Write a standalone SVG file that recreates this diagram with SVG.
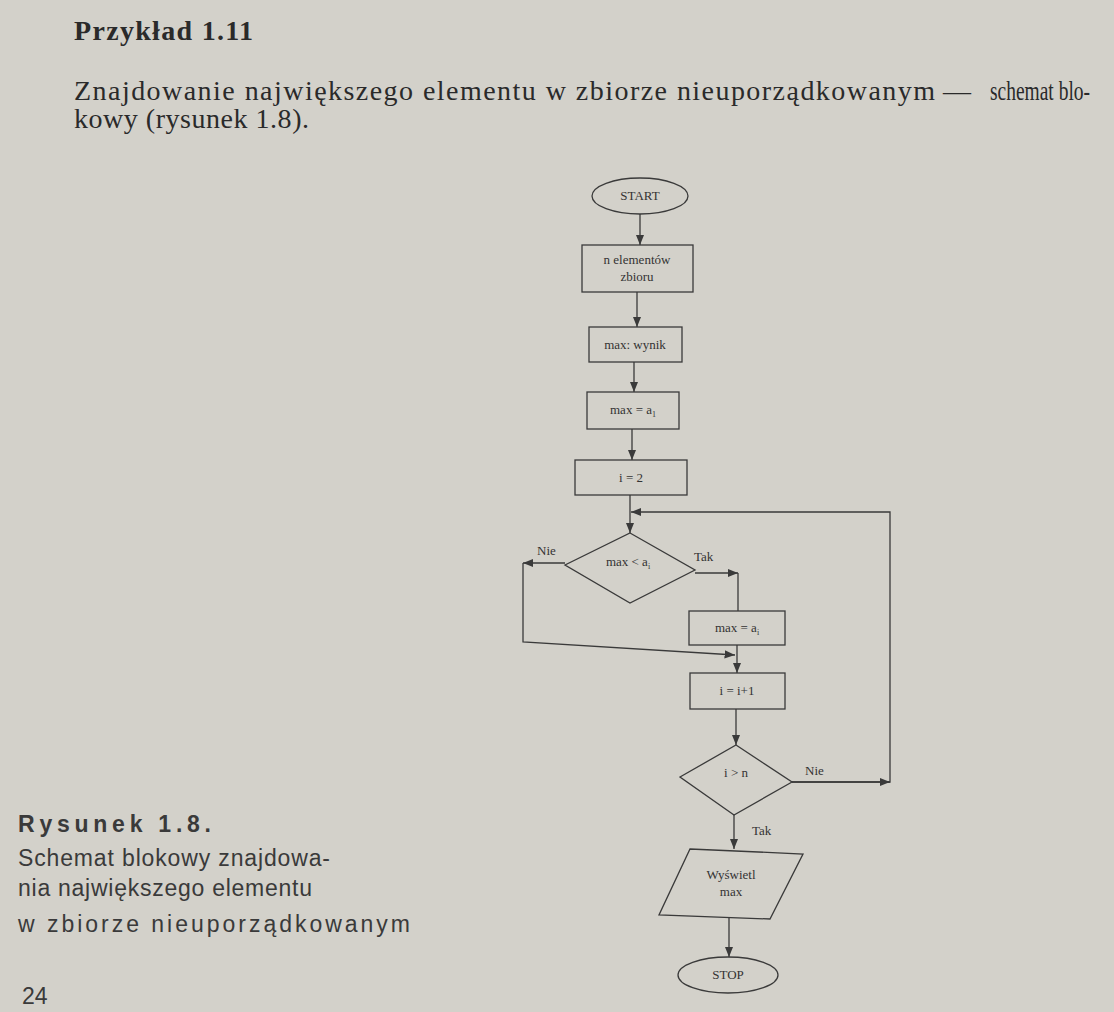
<svg xmlns="http://www.w3.org/2000/svg" width="1114" height="1012" viewBox="0 0 1114 1012">
<style>
.s{fill:none;stroke:#3a3a3a;stroke-width:1.3}
.c{stroke:#3a3a3a;stroke-width:1.3;fill:none}
.t{font-family:"Liberation Serif",serif;font-size:13px;fill:#333;text-anchor:middle}
.l{font-family:"Liberation Serif",serif;font-size:13px;fill:#333}
.h{font-family:"Liberation Serif",serif;font-size:28px;fill:#2a2a2a}
.cap{font-family:"Liberation Sans",sans-serif;font-size:23px;fill:#3a3a3a}
</style>
<defs><marker id="a" viewBox="0 0 10 10" refX="10" refY="5" markerWidth="8" markerHeight="8" orient="auto"><path d="M0,1 L10,5 L0,9z" fill="#3a3a3a"/></marker></defs>
<rect width="1114" height="1012" fill="#d3d1ca"/>
<text class="h" x="74" y="40" font-weight="bold" font-size="25" textLength="179" lengthAdjust="spacing">Przykład 1.11</text>
<text class="h" x="74" y="100" textLength="861" lengthAdjust="spacing">Znajdowanie największego elementu w zbiorze nieuporządkowanym</text>
<text class="h" x="943" y="100">—</text>
<text class="h" x="990" y="100" font-size="19" textLength="100" lengthAdjust="spacingAndGlyphs">schemat blo-</text>
<text class="h" x="74" y="128" textLength="235" lengthAdjust="spacing">kowy (rysunek 1.8).</text>
<text class="cap" x="18" y="832" font-weight="bold" font-size="22" textLength="193" lengthAdjust="spacing">Rysunek 1.8.</text>
<text class="cap" x="18" y="866" textLength="312" lengthAdjust="spacing">Schemat blokowy znajdowa-</text>
<text class="cap" x="18" y="896" textLength="294" lengthAdjust="spacing">nia największego elementu</text>
<text class="cap" x="18" y="932" textLength="392" lengthAdjust="spacing">w zbiorze nieuporządkowanym</text>
<text class="cap" x="22" y="1004" font-size="28">24</text>
<g id="connectors">
<path class="c" d="M640,214 V245" marker-end="url(#a)"/>
<path class="c" d="M637,292 V327" marker-end="url(#a)"/>
<path class="c" d="M634,362 V392" marker-end="url(#a)"/>
<path class="c" d="M632,429 V460" marker-end="url(#a)"/>
<path class="c" d="M630,495 V533" marker-end="url(#a)"/>
<path class="c" d="M792,782 H890 V512 H631" marker-end="url(#a)"/>
<path class="c" d="M565,563 H523" marker-end="url(#a)"/>
<path class="c" d="M523,563 V642 L735,655" marker-end="url(#a)"/>
<path class="c" d="M695,573 H738" marker-end="url(#a)"/>
<path class="c" d="M738,573 V611"/>
<path class="c" d="M737,645 V673" marker-end="url(#a)"/>
<path class="c" d="M736,709 V745" marker-end="url(#a)"/>
<path class="c" d="M792,782 H890" marker-end="url(#a)"/>
<path class="c" d="M734,815 V849" marker-end="url(#a)"/>
<path class="c" d="M729,918 V957" marker-end="url(#a)"/>
<text class="l" x="537" y="555">Nie</text>
<text class="l" x="694" y="561">Tak</text>
<text class="l" x="805" y="775">Nie</text>
<text class="l" x="752" y="835">Tak</text>
</g>
<g id="start"><ellipse class="s" cx="640" cy="196" rx="48" ry="18"/><text class="t" x="640" y="200">START</text></g>
<g id="input"><rect class="s" x="582" y="245" width="111" height="47"/><text class="t" x="637" y="264">n elementów</text><text class="t" x="637" y="281">zbioru</text></g>
<g id="result"><rect class="s" x="589" y="327" width="93" height="35"/><text class="t" x="635" y="349">max: wynik</text></g>
<g id="init"><rect class="s" x="587" y="392" width="92" height="37"/><text class="t" x="633" y="414">max = a<tspan font-size="8" dy="3">1</tspan></text></g>
<g id="i2"><rect class="s" x="575" y="460" width="112" height="35"/><text class="t" x="631" y="482">i = 2</text></g>
<g id="cond1"><path class="s" d="M630,533 L695,570 L630,603 L565,565z"/><text class="t" x="628" y="566">max &lt; a<tspan font-size="8" dy="3">i</tspan></text></g>
<g id="assign"><rect class="s" x="689" y="611" width="96" height="34"/><text class="t" x="737" y="632">max = a<tspan font-size="8" dy="3">i</tspan></text></g>
<g id="inc"><rect class="s" x="690" y="673" width="95" height="36"/><text class="t" x="737" y="695">i = i+1</text></g>
<g id="cond2"><path class="s" d="M736,745 L792,782 L734,815 L680,777z"/><text class="t" x="736" y="777">i &gt; n</text></g>
<g id="output"><path class="s" d="M690,849 L803,854 L770,919 L659,915z"/><text class="t" x="731" y="879">Wyświetl</text><text class="t" x="731" y="896">max</text></g>
<g id="stop"><ellipse class="s" cx="728" cy="975" rx="50" ry="18"/><text class="t" x="728" y="979">STOP</text></g>
</svg>
